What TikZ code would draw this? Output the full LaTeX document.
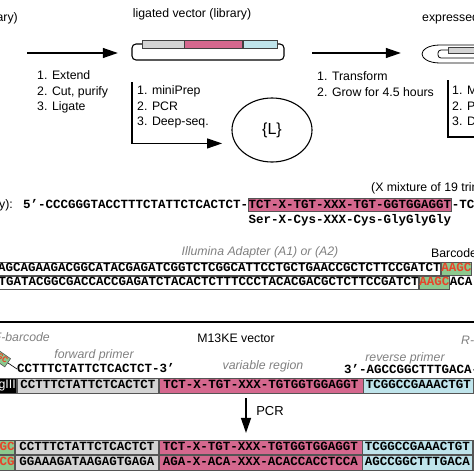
\documentclass[tikz,border=0pt]{standalone}
\usepackage{fontspec}
\setmainfont{Liberation Sans}
\setmonofont{Liberation Mono}
\usetikzlibrary{positioning, arrows.meta, shapes.geometric}
\definecolor{seqgray}{HTML}{D4D4D4}
\definecolor{seqpink}{HTML}{D5688E}
\definecolor{seqblue}{HTML}{BFE4EB}
\definecolor{seqgreen}{HTML}{8CC98E}
\definecolor{darkgreen}{HTML}{2E6A3E}
\definecolor{bcred}{HTML}{E8442A}
\definecolor{notegray}{HTML}{808080}
\definecolor{boxline}{HTML}{555555}

\begin{document}
\begin{tikzpicture}[x=1pt, y=-1pt,
    lbl/.style={font=\fontsize{12.3}{15.5}\selectfont, inner sep=0, align=left},
    note/.style={lbl, text=notegray, font=\fontsize{12.3}{15.5}\selectfont\itshape},
    seq/.style={font=\fontsize{12.5}{15}\selectfont\ttfamily\bfseries, inner sep=0, text height=9pt, text depth=2.5pt},
    seqbox/.style={seq, draw=boxline, line width=0.6pt, minimum height=15pt},
    vbar/.style={draw=black!75, line width=0.5pt, minimum height=8pt, inner sep=0},
    arr/.style={-{Triangle[length=15pt, width=10pt]}, line width=1.3pt}]
  \useasboundingbox (0,0) rectangle (474,474);
  \clip (0,0) rectangle (474,474);

  % Library construction
  \node[lbl, anchor=east] (oligotitle) at (18,18) {(library)};
  \node[lbl] (ligtitle) at (192,14) {ligated vector (library)};
  \node[lbl, anchor=west] (phagetitle) at (422,18) {expressed phage};

  \node[minimum width=152pt, minimum height=26pt] (ligvec) at (208,53) {};
  \draw[line width=1.1pt, rounded corners=4pt] (142,44) -- (132,44) -- (132,60) -- (284,60) -- (284,44) -- (276,44);
  \node[vbar, fill=seqgray, minimum width=42pt] (lvgray) at (163,44) {};
  \node[vbar, fill=seqpink, minimum width=58pt, right=0pt of lvgray] (lvpink) {};
  \node[vbar, fill=seqblue, minimum width=34pt, right=0pt of lvpink] (lvblue) {};

  \node[minimum width=76pt, minimum height=18pt] (phage) at (460,53) {};
  \draw[line width=0.8pt] (480,45) -- (440,45) .. controls (428,45) and (422,50) .. (422,54) .. controls (422,58) and (428,63) .. (440,63) -- (480,63);
  \draw[line width=0.8pt, rounded corners=3pt] (450,50) -- (438,50) -- (438,58) -- (480,58);
  \node[vbar, fill=seqgray, minimum width=40pt, minimum height=6pt, anchor=west] (phbar) at (448,50) {};

  \coordinate (libstart) at (27,53);
  \draw[arr, shorten >=14pt] (libstart) -- (ligvec.west);
  \draw[arr, shorten <=28pt, shorten >=21pt] (ligvec.east) -- (phage.west);

  \node[lbl, anchor=north west] (extsteps) at (37,70.5) {1. Extend\\2. Cut, purify\\3. Ligate};
  \node[lbl, anchor=north west] (trsteps) at (317,71.5) {1. Transform\\2. Grow for 4.5 hours};
  \node[lbl, anchor=north west] (seqsteps) at (137,85.5) {1. miniPrep\\2. PCR\\3. Deep-seq.};
  \node[lbl, anchor=north west] (phsteps) at (452,85.5) {1. MiniPrep\\2. PCR\\3. Deep-seq.};

  \node[ellipse, draw, line width=1.1pt, minimum width=80pt, minimum height=64pt, font=\fontsize{16}{18}\selectfont] (lib) at (272,130) {\{L\}};
  \coordinate (seqdown) at (132,82);
  \draw[arr, line width=1.1pt, shorten >=13pt] (seqdown) |- (lib.200);
  \coordinate (phdown) at (448,80);
  \coordinate (phout) at (490,137);
  \draw[line width=1.1pt] (phdown) |- (phout);

  % Oligo
  \node[lbl, anchor=east] (oligolbl) at (13,205) {(library):};
  \node[seq, anchor=west] (oligo5) at (23,205) {5’-CCCGGGTACCTTTCTATTCTCACTCT-};
  \node[seqbox, fill=seqpink, minimum height=13pt, right=0pt of oligo5] (oligovar) {TCT-X-TGT-XXX-TGT-GGTGGAGGT};
  \node[seq, right=0pt of oligovar] (oligo3) {-TCGGCCGAAACTGT};
  \node[seq, below=2pt of oligovar] (peptide) {Ser-X-Cys-XXX-Cys-GlyGlyGly};
  \node[lbl, anchor=west] (mixnote) at (371,188) {(X mixture of 19 trinucleotides)};

  % Illumina adapters
  \node[note] (illnote) at (260,252) {Illumina Adapter (A1) or (A2)};
  \node[lbl, anchor=west] (bclbl) at (431,253) {Barcode};
  \node[seqbox, fill=seqgreen, text=bcred, minimum height=13pt, anchor=west] (bcA) at (441,268.5) {AAGC};
  \node[seqbox, minimum height=13pt, left=0pt of bcA] (adA) {CAAGCAGAAGACGGCATACGAGATCGGTCTCGGCATTCCTGCTGAACCGCTCTTCCGATCT};
  \node[seqbox, fill=seqgreen, text=bcred, minimum height=13pt, anchor=west] (bcB) at (419,282.5) {AAGC};
  \node[seqbox, minimum height=13pt, left=0pt of bcB] (adB) {AATGATACGGCGACCACCGAGATCTACACTCTTTCCCTACACGACGCTCTTCCGATCT};
  \node[seq, right=0pt of bcB] (adBtail) {ACA};

  \draw[line width=1.6pt] (-5,322) -- (480,322);

  % M13KE vector
  \node[note, anchor=east] (fbclbl) at (50,337) {F-barcode};
  \node[lbl] (m13lbl) at (236,338) {M13KE vector};
  \node[note, anchor=west] (rbclbl) at (461,340) {R-barcode};
  \node[note] (fwdlbl) at (94,355) {forward primer};
  \node[note] (varlbl) at (263,366) {variable region};
  \node[note] (revlbl) at (405,358) {reverse primer};
  \node[seq, anchor=west] (fwdprimer) at (17,369) {CCTTTCTATTCTCACTCT-3’};
  \node[seq, anchor=west] (revprimer) at (344,370) {3’-AGCCGGCTTTGACA-5’};
  \node[seqbox, fill=seqgreen, text=bcred, rotate=-35, font=\fontsize{9}{10}\selectfont\ttfamily\bfseries,
        text height=6pt, text depth=1.5pt, minimum height=10pt, inner xsep=1pt] (fbctag) at (-2,356) {AAGC};
  \draw[line width=0.6pt] (fbctag.east) -- (fwdprimer.west);

  \node[seqbox, fill=black, text=white, font=\fontsize{12.3}{15}\selectfont, inner xsep=1pt, anchor=east] (g3) at (17,385.5) {gIII};
  \node[seqbox, fill=seqgray, minimum width=141pt, right=0pt of g3] (vgray) {CCTTTCTATTCTCACTCT};
  \node[seqbox, fill=seqpink, minimum width=204pt, right=0pt of vgray] (vpink) {TCT-X-TGT-XXX-TGTGGTGGAGGT};
  \node[seqbox, fill=seqblue, minimum width=110pt, right=0pt of vpink] (vblue) {TCGGCCGAAACTGT};

  % PCR product
  \node[seqbox, fill=seqgray, minimum width=143pt, minimum height=14.5pt, anchor=west] (bgrayA) at (15,447.5) {CCTTTCTATTCTCACTCT};
  \node[seqbox, fill=seqpink, minimum width=203pt, minimum height=14.5pt, right=0pt of bgrayA] (bpinkA) {TCT-X-TGT-XXX-TGTGGTGGAGGT};
  \node[seqbox, fill=seqblue, minimum width=110pt, minimum height=14.5pt, right=0pt of bpinkA] (bblueA) {TCGGCCGAAACTGT};
  \node[seqbox, fill=darkgreen, minimum width=20pt, minimum height=14.5pt, right=0pt of bblueA] (rbcA) {};
  \node[seqbox, fill=seqgreen, text=bcred, minimum height=14.5pt, left=0pt of bgrayA] (fbcA) {AAGC};

  \node[seqbox, fill=seqgray, minimum width=143pt, minimum height=14.5pt, below=0pt of bgrayA] (bgrayB) {GGAAAGATAAGAGTGAGA};
  \node[seqbox, fill=seqpink, minimum width=203pt, minimum height=14.5pt, right=0pt of bgrayB] (bpinkB) {AGA-X-ACA-XXX-ACACCACCTCCA};
  \node[seqbox, fill=seqblue, minimum width=110pt, minimum height=14.5pt, right=0pt of bpinkB] (bblueB) {AGCCGGCTTTGACA};
  \node[seqbox, fill=darkgreen, minimum width=20pt, minimum height=14.5pt, right=0pt of bblueB] (rbcB) {};
  \node[seqbox, fill=seqgreen, text=bcred, minimum height=14.5pt, left=0pt of bgrayB] (fbcB) {TTCG};

  \coordinate (pcrx) at (246,0);
  \draw[arr, line width=1.4pt, shorten <=5pt, shorten >=7pt] (vpink.south -| pcrx) -- (bpinkA.north -| pcrx);
  \node[lbl, font=\fontsize{13}{15}\selectfont] (pcrlbl) at (270,411) {PCR};
\end{tikzpicture}
\end{document}
